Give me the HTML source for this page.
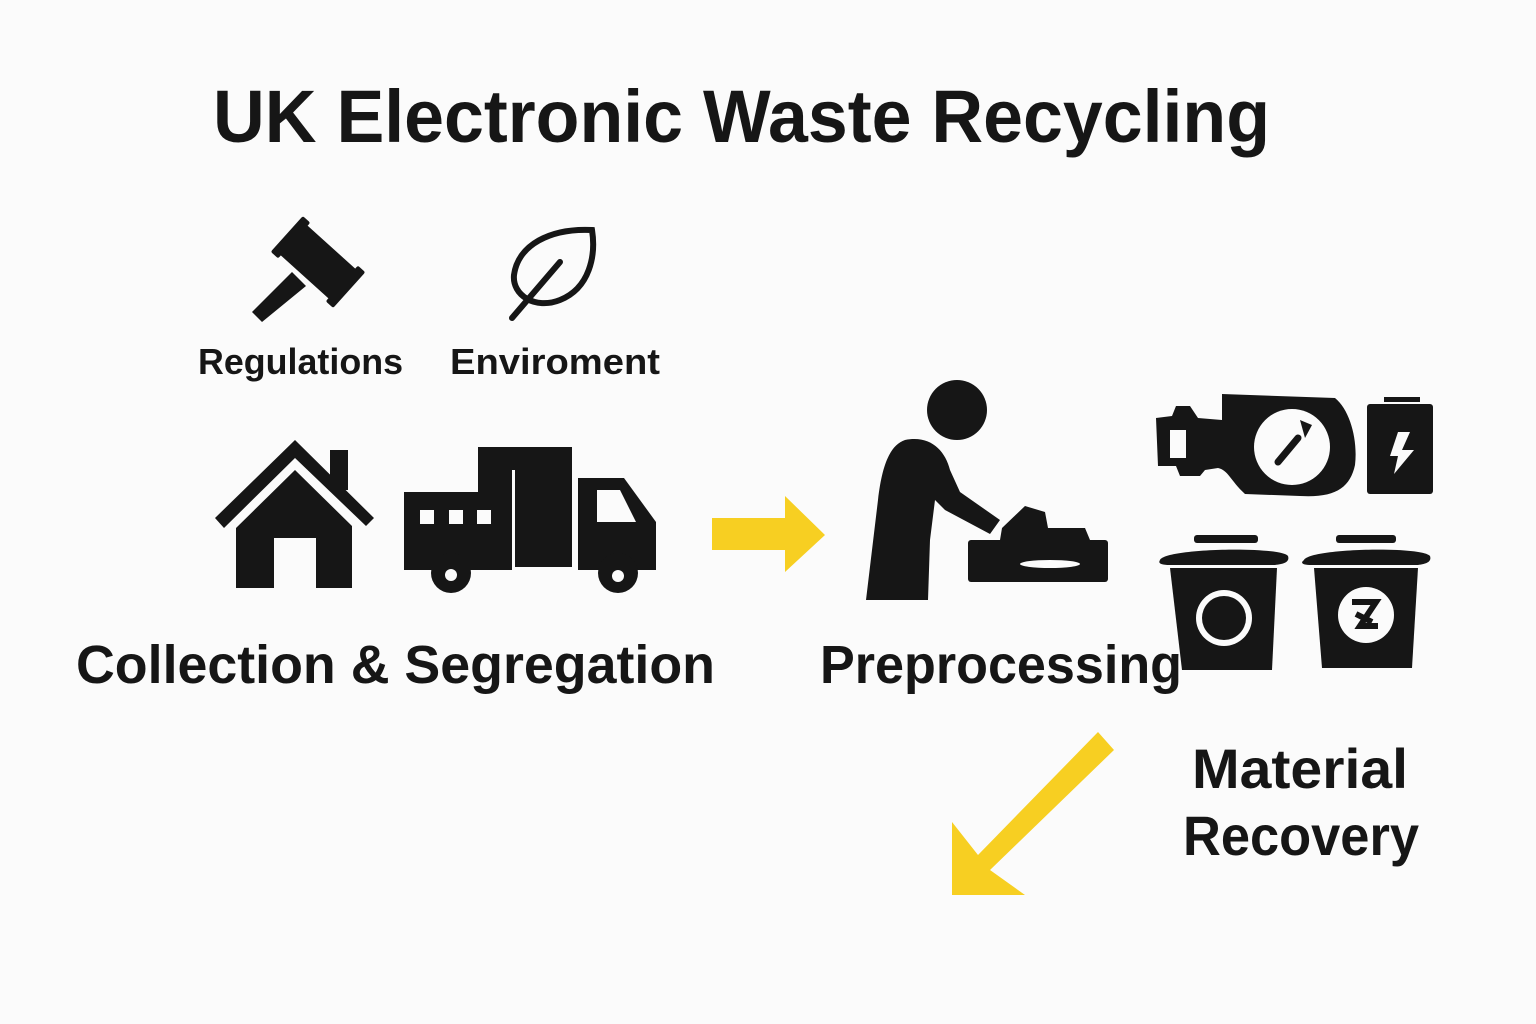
<!DOCTYPE html>
<html><head><meta charset="utf-8"><style>
html,body{margin:0;padding:0;background:#fbfbfb;}
svg{display:block;}
text{font-family:"Liberation Sans",sans-serif;fill:#161616;}
</style></head><body>
<svg width="1536" height="1024" viewBox="0 0 1536 1024" xmlns="http://www.w3.org/2000/svg">
<rect width="1536" height="1024" fill="#fbfbfb"/>
<text x="213" y="142" font-size="74" font-weight="bold" textLength="1057" lengthAdjust="spacingAndGlyphs">UK Electronic Waste Recycling</text>
<!-- gavel -->
<g fill="#161616">
<g transform="rotate(42 318 262)">
<rect x="282" y="242" width="72" height="40" rx="3"/>
<rect x="276" y="238" width="10" height="48" rx="2"/>
<rect x="350" y="238" width="10" height="48" rx="2"/>
</g>
<polygon points="292,272 306,286 262,322 252,312"/>
</g>
<!-- leaf -->
<g fill="none" stroke="#161616" stroke-width="6" stroke-linecap="round">
<path d="M592,230 C550,228 518,245 514,275 C512,295 535,310 560,300 C590,288 596,255 592,230 Z"/>
<path d="M512,318 L560,262"/>
</g>
<text x="198" y="374" font-size="36" font-weight="bold" textLength="205" lengthAdjust="spacingAndGlyphs">Regulations</text>
<text x="450" y="374" font-size="36" font-weight="bold" textLength="210" lengthAdjust="spacingAndGlyphs">Enviroment</text>
<!-- house -->
<g fill="#161616">
<polygon points="295,440 374,518 366,526 295,458 224,528 215,518"/>
<rect x="330" y="450" width="18" height="40"/>
<polygon points="295,470 352,526 352,588 316,588 316,538 274,538 274,588 236,588 236,528"/>
</g>
<!-- truck -->
<g fill="#161616">
<rect x="404" y="492" width="108" height="78"/>
<rect x="478" y="447" width="94" height="120"/>
<polygon points="578,478 624,478 656,522 656,570 578,570"/>
<circle cx="451" cy="573" r="20"/><circle cx="618" cy="573" r="20"/>
</g>
<g fill="#fbfbfb">
<rect x="420" y="510" width="14" height="14"/><rect x="449" y="510" width="14" height="14"/><rect x="477" y="510" width="14" height="14"/>
<polygon points="597,490 620,490 636,522 597,522"/>
<circle cx="451" cy="575" r="6"/><circle cx="618" cy="576" r="6"/>
<rect x="512" y="470" width="3" height="100"/>
</g>
<text x="76" y="683" font-size="54" font-weight="bold" textLength="639" lengthAdjust="spacingAndGlyphs">Collection &amp; Segregation</text>
<!-- right arrow -->
<polygon points="712,518 785,518 785,496 825,535 785,572 785,550 712,550" fill="#f7cf22"/>
<!-- person -->
<g fill="#161616">
<circle cx="957" cy="410" r="30"/>
<path d="M905,440 C930,435 945,450 950,470 L960,492 L1000,520 L990,534 L945,510 L935,500 L930,540 L928,600 L866,600 L878,500 C882,465 890,445 905,440 Z"/>
<rect x="968" y="540" width="140" height="42" rx="3"/>
<path d="M1002,528 L1025,506 L1045,512 L1048,528 L1085,528 L1090,540 L1000,540 Z"/>
</g>
<ellipse cx="1050" cy="564" rx="30" ry="4" fill="#fbfbfb"/>
<text x="820" y="683" font-size="54" font-weight="bold" textLength="362" lengthAdjust="spacingAndGlyphs">Preprocessing</text>
<!-- devices -->
<g fill="#161616">
<path d="M1222,394 L1335,398 C1350,410 1358,440 1355,465 C1350,488 1335,498 1300,496 L1245,494 C1230,480 1228,470 1218,468 L1205,470 L1200,476 L1180,476 L1176,466 L1158,466 L1156,418 L1172,416 L1176,406 L1190,406 L1198,418 L1222,420 Z"/>
<rect x="1367" y="404" width="66" height="90" rx="3"/>
<rect x="1384" y="397" width="36" height="5"/>
</g>
<g fill="#fbfbfb">
<rect x="1170" y="430" width="16" height="28"/>
<circle cx="1292" cy="447" r="38"/>
<polygon points="1398,432 1410,432 1402,450 1414,450 1394,474 1398,456 1390,456"/>
</g>
<path d="M1278,462 L1298,438" stroke="#161616" stroke-width="7" stroke-linecap="round"/>
<path d="M1300,420 L1312,425 L1305,438 Z" fill="#161616"/>
<!-- bins -->
<g fill="#161616">
<rect x="1194" y="535" width="64" height="8" rx="3"/>
<path d="M1160,560 C1165,548 1280,546 1288,556 C1290,562 1284,564 1275,565 L1170,565 C1160,565 1158,563 1160,560 Z"/>
<polygon points="1170,568 1277,568 1272,670 1182,670"/>
<rect x="1336" y="535" width="60" height="8" rx="3"/>
<path d="M1304,560 C1310,548 1422,546 1430,556 C1432,562 1426,564 1418,565 L1312,565 C1302,565 1300,563 1304,560 Z"/>
<polygon points="1314,568 1418,568 1412,668 1322,668"/>
</g>
<circle cx="1224" cy="618" r="28" fill="#fbfbfb"/><circle cx="1224" cy="618" r="22" fill="#161616"/>
<circle cx="1366" cy="615" r="28" fill="#fbfbfb"/>
<path d="M1352,602 L1376,602 L1360,626 L1378,626 M1356,614 L1372,622" stroke="#161616" stroke-width="6" fill="none"/>
<!-- diagonal arrow -->
<polygon points="1098,732 1114,750 990,870 1025,895 952,895 952,822 978,855" fill="#f7cf22"/>
<text x="1192" y="788" font-size="56" font-weight="bold" textLength="216" lengthAdjust="spacingAndGlyphs">Material</text>
<text x="1183" y="855" font-size="56" font-weight="bold" textLength="236" lengthAdjust="spacingAndGlyphs">Recovery</text>
</svg>
</body></html>
